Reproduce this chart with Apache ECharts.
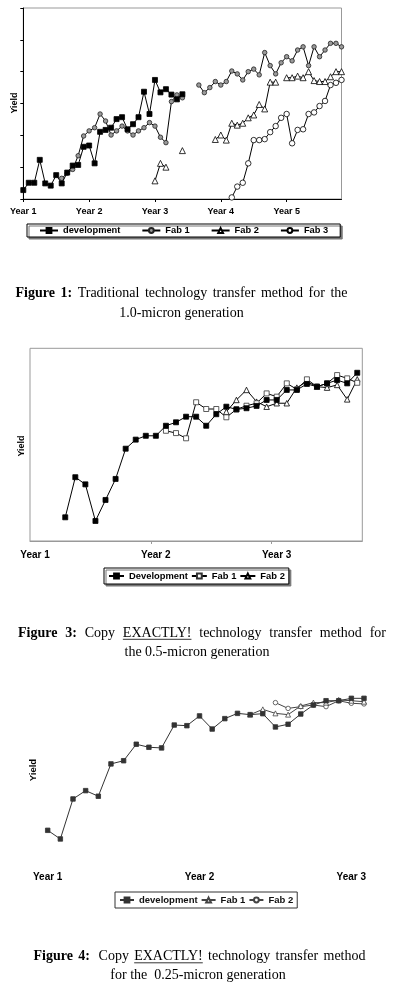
<!DOCTYPE html>
<html><head><meta charset="utf-8">
<script src="https://cdn.jsdelivr.net/npm/echarts@6/dist/echarts.min.js"></script>
<style>html,body{margin:0;padding:0;background:#fff}#c{width:401px;height:993px}</style>
</head><body><div id="c"></div>
<script>
// ---------- DATA ----------
const yearLabels = ['Year 1', 'Year 2', 'Year 3', 'Year 4', 'Year 5'];
const yearTicksF1 = [0, 12, 24, 36, 48];   // months
const yearTicksF3 = [0, 12, 24];
const yearTicksF4 = [0, 12, 24];

// Figure 1 (monthly, month 0 = Year 1); null = no data
const f1DevStart = 0;
const f1Development = [2.8, 5.1, 5.1, 12.3, 4.9, 4.2, 7.5, 4.9, 8.3, 10.5, 10.7, 16.4, 16.8, 11.2, 21.1, 21.7, 22.4, 25.1, 25.7, 21.9, 23.5, 25.7, 33.7, 26.7, 37.4, 33.5, 34.5, 32.8, 31.3, 32.9];
const f1Fab1Start = 7;
const f1Fab1 = [6.5, 8.1, 9.3, 13.6, 19.8, 21.4, 22.4, 26.7, 24.5, 20.1, 21.4, 22.9, 21.4, 20.1, 21.4, 22.4, 24.0, 22.9, 19.4, 17.7, 30.6, 32.7, 31.8,
  null, null,
  35.8, 33.4, 35.0, 36.9, 35.8, 36.9, 40.2, 39.3, 37.4, 40.0, 40.8, 39.0, 46.0, 41.9, 39.3, 42.8, 44.7, 43.4, 46.8, 47.8, 41.9, 47.8, 44.7, 46.8, 48.9, 48.9, 47.8];
const f1Fab2Start = 24;
const f1Fab2 = [5.7, 11.2, 10.0, null, null, 15.2, null, null, null, null, null,
  18.7, 20.1, 18.5, 23.8, 23.2, 23.8, 25.5, 26.4, 29.7, 28.3, 36.7, 36.7, null,
  38.1, 38.1, 38.6, 38.1, 40.0, 37.2, 36.9, 36.9, 38.4, 40.0, 40.0];
const f1Fab3Start = 38;
const f1Fab3 = [0.5, 3.9, 5.1, 11.2, 18.5, 18.5, 18.8, 21.0, 22.9, 25.5, 26.7, 17.5, 21.7, 21.9, 26.7, 27.2, 29.2, 30.8, 35.8, 36.5, 37.4];

// Figure 3 (monthly, points at mid-month)
const f3DevStart = 3.5;
const f3Development = [12.3, 33.1, 29.4, 10.4, 21.3, 32.2, 47.9, 52.6, 54.6, 54.6, 59.8, 61.6, 64.5, 64.5, 59.8, 65.8, 69.7, 68.3, 68.9, 70.1, 73.2, 73.2, 78.4, 78.4, 81.5, 80.1, 81.8, 83.5, 81.8, 87.3];
const f3Fab1Start = 13.5;
const f3Fab1 = [57.2, 56.0, 53.3, 72.0, 68.5, 68.5, 64.2, 68.3, 70.2, 71.5, 76.6, 74.9, 81.8, 78.7, 83.9, 80.1, 81.8, 86.1, 84.4, 82.1];
const f3Fab2Start = 19.5;
const f3Fab2 = [67.1, 73.2, 78.4, 72.3, 69.7, 71.5, 71.5, 79.6, 82.7, 80.1, 79.6, 81.0, 73.5, 83.9];

// Figure 4 (monthly, month 0 = Year 1)
const f4DevStart = 0;
const f4Development = [12.3, 6.9, 31.9, 37.1, 33.6, 53.8, 55.8, 66.1, 64.2, 63.8, 78.1, 77.7, 83.8, 75.6, 82.1, 85.4, 84.6, 85.2, 76.9, 78.6, 85.0, 90.6, 93.3, 93.3, 94.8, 94.8];
const f4Fab1Start = 16;
const f4Fab1 = [84.6, 87.9, 85.4, 84.6, 90.0, 92.1, 92.1, 93.8, 93.3, 92.7];
const f4Fab2Start = 18;
const f4Fab2 = [92.1, 88.5, 89.6, 90.6, 89.6, 93.3, 91.7, 91.3];

// ---------- CHART ----------
const SANS = '"Liberation Sans", Arial, sans-serif';
const SERIF = '"Liberation Serif", "Times New Roman", serif';

function pts(start, vals) {
  return vals.map((v, i) => [start + i, v === null ? '-' : v]);
}
function yearFmt(v) {
  return (v % 12 === 0 && yearLabels[v / 12]) ? yearLabels[v / 12] : '';
}
function lineSeries(name, ax, data, symbol, size, fill, stroke, lineColor, z) {
  return {
    name: name, type: 'line', xAxisIndex: ax, yAxisIndex: ax, data: data,
    symbol: symbol, symbolSize: size, showSymbol: true, showAllSymbol: true,
    connectNulls: false, silent: true, animation: false, z: z || 2,
    emphasis: { disabled: true },
    itemStyle: { color: fill, borderColor: stroke, borderWidth: 0.8 },
    lineStyle: { color: lineColor, width: 1 }
  };
}

const measureCtx = document.createElement('canvas').getContext('2d');
// segments -> words; optional target width distributes extra space over word gaps
function caption(segs, cx, cy, size, targetWidth) {
  const els = [];
  const pieces = [];
  segs.forEach(s => {
    s.t.split(/( +)/).forEach(p => { if (p.length) pieces.push({ t: p, b: s.b, u: s.u, sp: /^ +$/.test(p) }); });
  });
  pieces.forEach(p => {
    measureCtx.font = (p.b ? 'bold ' : '') + size + 'px ' + SERIF;
    p.w = measureCtx.measureText(p.t).width;
  });
  const natural = pieces.reduce((a, p) => a + p.w, 0);
  const gaps = pieces.filter(p => p.sp).length;
  const extra = (targetWidth && gaps) ? Math.max(0, (targetWidth - natural) / gaps) : 0;
  pieces.forEach(p => { if (p.sp) p.w += extra; });
  const total = pieces.reduce((a, p) => a + p.w, 0);
  let x = cx - total / 2;
  pieces.forEach(p => {
    const font = (p.b ? 'bold ' : '') + size + 'px ' + SERIF;
    if (!p.sp) {
      els.push({ type: 'text', x: x, y: cy, silent: true,
        style: { text: p.t, font: font, fill: '#000', textAlign: 'left', textVerticalAlign: 'middle', align: 'left', verticalAlign: 'middle' } });
      if (p.u) {
        els.push({ type: 'line', silent: true,
          shape: { x1: x, y1: cy + size * 0.45, x2: x + p.w, y2: cy + size * 0.45 },
          style: { stroke: '#000', lineWidth: 0.8 } });
      }
    }
    x += p.w;
  });
  return els;
}
function yieldLabel(x, y, size) {
  return { type: 'text', x: x, y: y, rotation: Math.PI / 2, silent: true,
    style: { text: 'Yield', font: 'bold ' + size + 'px ' + SANS, fill: '#000',
      textAlign: 'center', textVerticalAlign: 'middle', align: 'center', verticalAlign: 'middle' } };
}

const graphics = [].concat(
  [yieldLabel(15, 103, 9), yieldLabel(21.5, 446, 9), yieldLabel(33, 770, 9.5)],
  caption([{ t: 'Figure 1:', b: true }, { t: ' Traditional technology transfer method for the' }], 181.5, 293.5, 14, 332),
  caption([{ t: '1.0-micron generation' }], 181.5, 313.5, 14),
  caption([{ t: 'Figure 3:', b: true }, { t: ' Copy ' }, { t: 'EXACTLY!', u: true }, { t: ' technology transfer method for' }], 202, 633, 14, 368),
  caption([{ t: 'the 0.5-micron generation' }], 197, 652, 14),
  caption([{ t: 'Figure 4:', b: true }, { t: '  Copy ' }, { t: 'EXACTLY!', u: true }, { t: ' technology transfer method' }], 199.5, 956.5, 14, 332),
  caption([{ t: 'for the  0.25-micron generation' }], 198, 975, 14)
);

const legendBase = {
  orient: 'horizontal', selectedMode: false, backgroundColor: '#fff',
  borderColor: '#000', borderWidth: 1,
  formatter: n => n.split(':')[1],
  textStyle: { fontFamily: SANS, fontWeight: 'bold', color: '#000' }
};

const option = {
  animation: false,
  textStyle: { fontFamily: SANS },
  graphic: graphics,
  grid: [
    { left: 23.3, top: 8, width: 318.2, height: 191, show: true, borderColor: '#999', borderWidth: 1 },
    { left: 30, top: 348.3, width: 332.3, height: 192.7, show: true, borderColor: '#999', borderWidth: 1 },
    { left: 47.7, top: 690, width: 316.3, height: 160, show: false }
  ],
  xAxis: [
    { type: 'value', gridIndex: 0, min: 0, max: 58, interval: 12,
      axisLine: { show: true, onZero: false, lineStyle: { color: '#000', width: 1 } },
      axisTick: { show: true, length: 3, customValues: yearTicksF1, lineStyle: { color: '#000' } },
      axisLabel: { customValues: yearTicksF1, formatter: yearFmt, fontSize: 9, fontWeight: 'bold', color: '#000', margin: 8 },
      splitLine: { show: false } },
    { type: 'value', gridIndex: 1, min: 0, max: 33, interval: 12,
      axisLine: { show: true, onZero: false, lineStyle: { color: '#999', width: 1 } },
      axisTick: { show: true, length: 3, customValues: [12, 24], lineStyle: { color: '#999' } },
      axisLabel: { customValues: yearTicksF3, formatter: yearFmt, fontSize: 10, fontWeight: 'bold', color: '#000', margin: 9, padding: [0, 0, 0, 10] },
      splitLine: { show: false } },
    { type: 'value', gridIndex: 2, min: 0, max: 25, interval: 12,
      axisLine: { show: false }, axisTick: { show: false },
      axisLabel: { customValues: yearTicksF4, formatter: yearFmt, fontSize: 10, fontWeight: 'bold', color: '#000', margin: 22 },
      splitLine: { show: false } }
  ],
  yAxis: [
    { type: 'value', gridIndex: 0, min: 0, max: 60, interval: 10,
      axisLine: { show: true, onZero: false, lineStyle: { color: '#000', width: 1 } },
      axisTick: { show: true, length: 3, lineStyle: { color: '#000' } },
      axisLabel: { show: false }, splitLine: { show: false } },
    { type: 'value', gridIndex: 1, min: 0, max: 100, interval: 20,
      axisLine: { show: false }, axisTick: { show: false }, axisLabel: { show: false }, splitLine: { show: false } },
    { type: 'value', gridIndex: 2, min: 0, max: 100, interval: 20,
      axisLine: { show: false }, axisTick: { show: false }, axisLabel: { show: false }, splitLine: { show: false } }
  ],
  legend: [
    Object.assign({}, legendBase, {
      left: 27, top: 224, padding: [2, 12], itemGap: 21, itemWidth: 18, itemHeight: 6,
      data: ['1:development', '1:Fab 1', '1:Fab 2', '1:Fab 3'],
      textStyle: Object.assign({}, legendBase.textStyle, { fontSize: 9.3 }),
      shadowColor: '#777', shadowOffsetX: 2, shadowOffsetY: 2, shadowBlur: 0 }),
    Object.assign({}, legendBase, {
      left: 104, top: 568, padding: [3.5, 4], itemGap: 3, itemWidth: 15, itemHeight: 6,
      data: ['3:Development', '3:Fab 1', '3:Fab 2'],
      textStyle: Object.assign({}, legendBase.textStyle, { fontSize: 9.4 }),
      shadowColor: '#777', shadowOffsetX: 2, shadowOffsetY: 2, shadowBlur: 0 }),
    Object.assign({}, legendBase, {
      left: 115, top: 892, padding: [3, 4], itemGap: 3, itemWidth: 14, itemHeight: 6,
      borderColor: '#333',
      data: ['4:development', '4:Fab 1', '4:Fab 2'],
      textStyle: Object.assign({}, legendBase.textStyle, { fontSize: 9.5, color: '#111' }) })
  ],
  series: [
    lineSeries('1:Fab 3', 0, pts(f1Fab3Start, f1Fab3), 'circle', 5.5, '#fff', '#000', '#000', 2),
    lineSeries('1:Fab 2', 0, pts(f1Fab2Start, f1Fab2), 'triangle', 6, '#fff', '#000', '#000', 2),
    lineSeries('1:Fab 1', 0, pts(f1Fab1Start, f1Fab1), 'circle', 4.5, '#9a9a9a', '#222', '#000', 3),
    lineSeries('1:development', 0, pts(f1DevStart, f1Development), 'rect', 5, '#000', '#000', '#000', 4),

    lineSeries('3:Fab 2', 1, pts(f3Fab2Start, f3Fab2), 'triangle', 5.5, '#fff', '#000', '#000', 2),
    lineSeries('3:Fab 1', 1, pts(f3Fab1Start, f3Fab1), 'rect', 5, '#fff', '#333', '#000', 3),
    lineSeries('3:Development', 1, pts(f3DevStart, f3Development), 'rect', 5, '#000', '#000', '#000', 4),

    lineSeries('4:Fab 2', 2, pts(f4Fab2Start, f4Fab2), 'circle', 4.5, '#fff', '#444', '#444', 2),
    lineSeries('4:Fab 1', 2, pts(f4Fab1Start, f4Fab1), 'triangle', 5, '#fff', '#444', '#444', 3),
    lineSeries('4:development', 2, pts(f4DevStart, f4Development), 'rect', 4.5, '#333', '#333', '#333', 4)
  ]
};
const chart = echarts.init(document.getElementById('c'), null, { renderer: 'canvas' });
chart.setOption(option);
</script>
</body></html>
